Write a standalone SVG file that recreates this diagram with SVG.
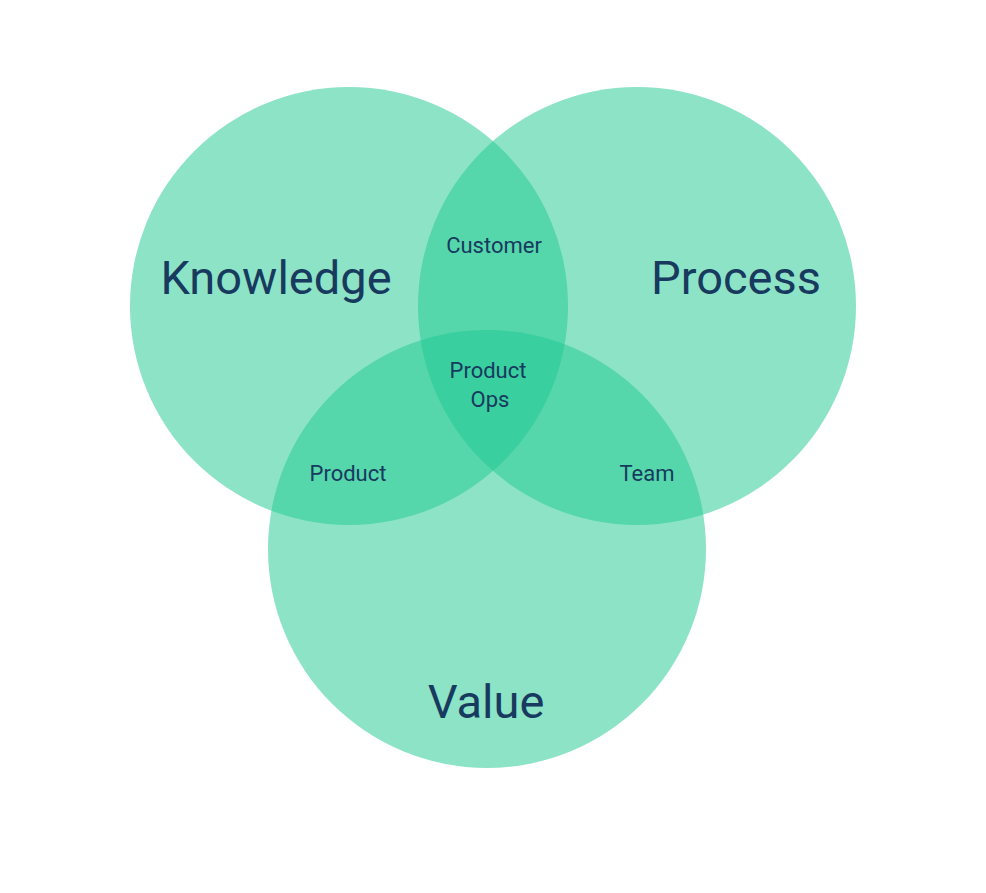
<svg xmlns="http://www.w3.org/2000/svg" width="986" height="893" viewBox="0 0 986 893">
<style>
.c{fill:#22c991;fill-opacity:0.52}
.big{font-family:Roboto,"Liberation Sans",sans-serif;font-size:47px;fill:#173a5e;text-anchor:middle}
.sm{font-family:Roboto,"Liberation Sans",sans-serif;font-size:22px;fill:#173a5e;text-anchor:middle}
</style>
<rect width="986" height="893" fill="#fff"/>
<g id="knowledge"><circle class="c" cx="349" cy="306" r="219"/><text class="big" x="276" y="294">Knowledge</text></g>
<g id="process"><circle class="c" cx="637" cy="306" r="219"/><text class="big" x="736" y="294">Process</text></g>
<g id="value"><circle class="c" cx="487" cy="549" r="219"/><text class="big" x="486" y="718">Value</text></g>
<g id="customer"><text class="sm" x="494" y="253">Customer</text></g>
<g id="productops"><text class="sm" x="488" y="378">Product</text><text class="sm" x="490" y="407">Ops</text></g>
<g id="product"><text class="sm" x="348" y="481">Product</text></g>
<g id="team"><text class="sm" x="647" y="481">Team</text></g>
<g id="connectors"></g>
</svg>
